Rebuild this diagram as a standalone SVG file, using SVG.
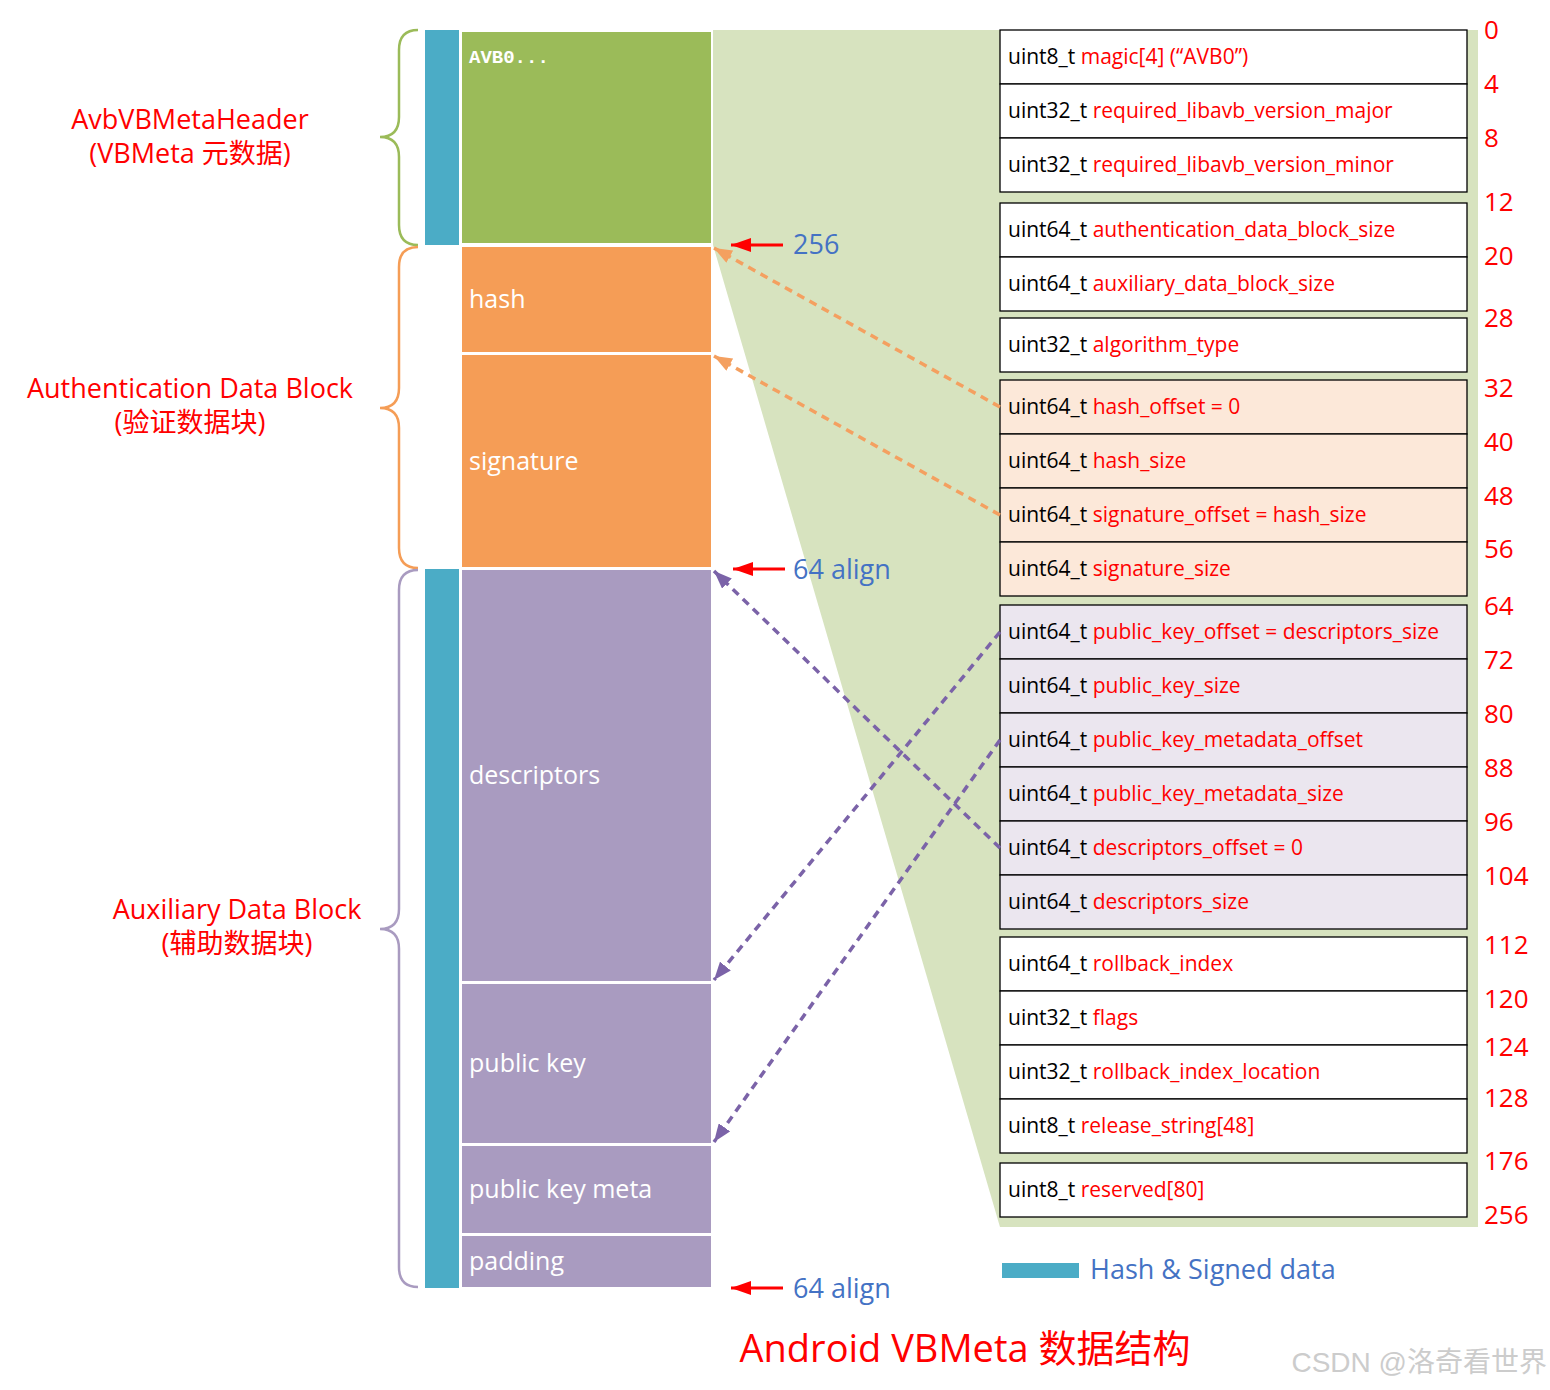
<svg xmlns="http://www.w3.org/2000/svg" width="1550" height="1390" viewBox="0 0 1550 1390">
<style>
text{font-family:"Open Sans","Noto Sans","Noto Sans CJK SC",sans-serif}
.r{fill:#fff;stroke:#000;stroke-width:1.3}
.p{fill:#fce8d9;stroke:#000;stroke-width:1.3}
.l{fill:#ebe6ef;stroke:#000;stroke-width:1.3}
.t{font-size:21px;fill:#000}
.t tspan{fill:#f00}
.o{font-size:26px;fill:#f00}
.w{font-size:25px;fill:#fff}
.b{font-size:27px;fill:#4472c4}
.red{font-size:27px;fill:#f00;text-anchor:middle}
.br{fill:none;stroke-width:2.5}
</style>
<defs>
<marker id="ap" markerWidth="18" markerHeight="14" refX="18" refY="7" orient="auto" markerUnits="userSpaceOnUse"><path d="M0,0 L18,7 L0,14 z" fill="#7b63a8"/></marker>
<marker id="aq" markerWidth="18" markerHeight="14" refX="18" refY="7" orient="auto" markerUnits="userSpaceOnUse"><path d="M0,0 L18,7 L0,14 z" fill="#f4a060"/></marker>
<marker id="ar" markerWidth="20" markerHeight="14" refX="20" refY="7" orient="auto" markerUnits="userSpaceOnUse"><path d="M0,0 L20,7 L0,14 z" fill="#f00"/></marker>
</defs>
<polygon points="713,30 1478,30 1478,1227 1000,1227 713,245" fill="#d7e3bf"/>
<g id="left">
<rect x="425" y="30" width="34" height="215" fill="#4bacc6"/>
<rect x="425" y="569" width="34" height="719" fill="#4bacc6"/>
<rect x="462" y="32" width="249" height="211" fill="#9bbb59"/>
<text x="469" y="63" style="font-family:'Liberation Mono',monospace;font-weight:bold" font-size="19" fill="#fff">AVB0...</text>
<rect x="462" y="247" width="249" height="105" fill="#f59d56"/><text class="w" x="469" y="308">hash</text>
<rect x="462" y="355" width="249" height="212" fill="#f59d56"/><text class="w" x="469" y="470">signature</text>
<rect x="462" y="570" width="249" height="411" fill="#a99bc0"/><text class="w" x="469" y="784">descriptors</text>
<rect x="462" y="984" width="249" height="159" fill="#a99bc0"/><text class="w" x="469" y="1072">public key</text>
<rect x="462" y="1146" width="249" height="87" fill="#a99bc0"/><text class="w" x="469" y="1198">public key meta</text>
<rect x="462" y="1236" width="249" height="51" fill="#a99bc0"/><text class="w" x="469" y="1270">padding</text>
</g>
<g id="braces">
<path class="br" stroke="#9bbb59" d="M418,30 Q399,30 399,50 L399,117 Q399,137 380,137 Q399,137 399,157 L399,225 Q399,245 418,245"/>
<path class="br" stroke="#f59d56" d="M418,247 Q399,247 399,267 L399,388 Q399,408 380,408 Q399,408 399,428 L399,548 Q399,568 418,568"/>
<path class="br" stroke="#a99bc0" d="M418,570 Q399,570 399,590 L399,909 Q399,929 380,929 Q399,929 399,949 L399,1267 Q399,1287 418,1287"/>
<text class="red" x="190" y="129">AvbVBMetaHeader</text>
<text class="red" x="190" y="163">(VBMeta 元数据)</text>
<text class="red" x="190" y="398">Authentication Data Block</text>
<text class="red" x="190" y="432">(验证数据块)</text>
<text class="red" x="237" y="919">Auxiliary Data Block</text>
<text class="red" x="237" y="953">(辅助数据块)</text>
</g>
<g id="table">
<rect class="r" x="1000" y="30" width="467" height="54"/><text class="t" x="1008" y="64">uint8_t <tspan>magic[4] (“AVB0”)</tspan></text>
<rect class="r" x="1000" y="84" width="467" height="54"/><text class="t" x="1008" y="118">uint32_t <tspan>required_libavb_version_major</tspan></text>
<rect class="r" x="1000" y="138" width="467" height="54"/><text class="t" x="1008" y="172">uint32_t <tspan>required_libavb_version_minor</tspan></text>
<rect class="r" x="1000" y="203" width="467" height="54"/><text class="t" x="1008" y="237">uint64_t <tspan>authentication_data_block_size</tspan></text>
<rect class="r" x="1000" y="257" width="467" height="54"/><text class="t" x="1008" y="291">uint64_t <tspan>auxiliary_data_block_size</tspan></text>
<rect class="r" x="1000" y="318" width="467" height="54"/><text class="t" x="1008" y="352">uint32_t <tspan>algorithm_type</tspan></text>
<rect class="p" x="1000" y="380" width="467" height="54"/><text class="t" x="1008" y="414">uint64_t <tspan>hash_offset = 0</tspan></text>
<rect class="p" x="1000" y="434" width="467" height="54"/><text class="t" x="1008" y="468">uint64_t <tspan>hash_size</tspan></text>
<rect class="p" x="1000" y="488" width="467" height="54"/><text class="t" x="1008" y="522">uint64_t <tspan>signature_offset = hash_size</tspan></text>
<rect class="p" x="1000" y="542" width="467" height="54"/><text class="t" x="1008" y="576">uint64_t <tspan>signature_size</tspan></text>
<rect class="l" x="1000" y="605" width="467" height="54"/><text class="t" x="1008" y="639">uint64_t <tspan>public_key_offset = descriptors_size</tspan></text>
<rect class="l" x="1000" y="659" width="467" height="54"/><text class="t" x="1008" y="693">uint64_t <tspan>public_key_size</tspan></text>
<rect class="l" x="1000" y="713" width="467" height="54"/><text class="t" x="1008" y="747">uint64_t <tspan>public_key_metadata_offset</tspan></text>
<rect class="l" x="1000" y="767" width="467" height="54"/><text class="t" x="1008" y="801">uint64_t <tspan>public_key_metadata_size</tspan></text>
<rect class="l" x="1000" y="821" width="467" height="54"/><text class="t" x="1008" y="855">uint64_t <tspan>descriptors_offset = 0</tspan></text>
<rect class="l" x="1000" y="875" width="467" height="54"/><text class="t" x="1008" y="909">uint64_t <tspan>descriptors_size</tspan></text>
<rect class="r" x="1000" y="937" width="467" height="54"/><text class="t" x="1008" y="971">uint64_t <tspan>rollback_index</tspan></text>
<rect class="r" x="1000" y="991" width="467" height="54"/><text class="t" x="1008" y="1025">uint32_t <tspan>flags</tspan></text>
<rect class="r" x="1000" y="1045" width="467" height="54"/><text class="t" x="1008" y="1079">uint32_t <tspan>rollback_index_location</tspan></text>
<rect class="r" x="1000" y="1099" width="467" height="54"/><text class="t" x="1008" y="1133">uint8_t <tspan>release_string[48]</tspan></text>
<rect class="r" x="1000" y="1163" width="467" height="54"/><text class="t" x="1008" y="1197">uint8_t <tspan>reserved[80]</tspan></text>
</g>
<g id="offsets">
<text class="o" x="1484" y="39">0</text><text class="o" x="1484" y="93">4</text><text class="o" x="1484" y="147">8</text>
<text class="o" x="1484" y="211">12</text><text class="o" x="1484" y="265">20</text><text class="o" x="1484" y="327">28</text>
<text class="o" x="1484" y="397">32</text><text class="o" x="1484" y="451">40</text><text class="o" x="1484" y="505">48</text>
<text class="o" x="1484" y="558">56</text><text class="o" x="1484" y="615">64</text><text class="o" x="1484" y="669">72</text>
<text class="o" x="1484" y="723">80</text><text class="o" x="1484" y="777">88</text><text class="o" x="1484" y="831">96</text>
<text class="o" x="1484" y="885">104</text><text class="o" x="1484" y="954">112</text><text class="o" x="1484" y="1008">120</text>
<text class="o" x="1484" y="1056">124</text><text class="o" x="1484" y="1107">128</text><text class="o" x="1484" y="1170">176</text>
<text class="o" x="1484" y="1224">256</text>
</g>
<g id="connectors" fill="none">
<g stroke="#f4a060" stroke-width="3.5" stroke-dasharray="8,6">
<line x1="1000" y1="407" x2="714" y2="248" marker-end="url(#aq)"/>
<line x1="1000" y1="515" x2="714" y2="356" marker-end="url(#aq)"/>
</g>
<g stroke="#7b63a8" stroke-width="3.5" stroke-dasharray="8,6">
<line x1="1000" y1="848" x2="714" y2="571" marker-end="url(#ap)"/>
<line x1="1000" y1="632" x2="714" y2="980" marker-end="url(#ap)"/>
<line x1="1000" y1="740" x2="714" y2="1142" marker-end="url(#ap)"/>
</g>
<g stroke="#f00" stroke-width="3">
<line x1="783" y1="245" x2="731" y2="245" marker-end="url(#ar)"/>
<line x1="785" y1="569" x2="733" y2="569" marker-end="url(#ar)"/>
<line x1="783" y1="1288" x2="731" y2="1288" marker-end="url(#ar)"/>
</g>
</g>
<text class="b" x="793" y="254">256</text>
<text class="b" x="793" y="579">64 align</text>
<text class="b" x="793" y="1298">64 align</text>
<rect x="1002" y="1263" width="77" height="15" fill="#4bacc6"/>
<text class="b" x="1090" y="1279">Hash &amp; Signed data</text>
<text x="965" y="1362" font-size="38" fill="#f00" text-anchor="middle">Android VBMeta 数据结构</text>
<text x="1547" y="1372" font-size="28" fill="#ccc" text-anchor="end" style="font-family:'Liberation Sans','Noto Sans CJK SC',sans-serif">CSDN @洛奇看世界</text>
</svg>
